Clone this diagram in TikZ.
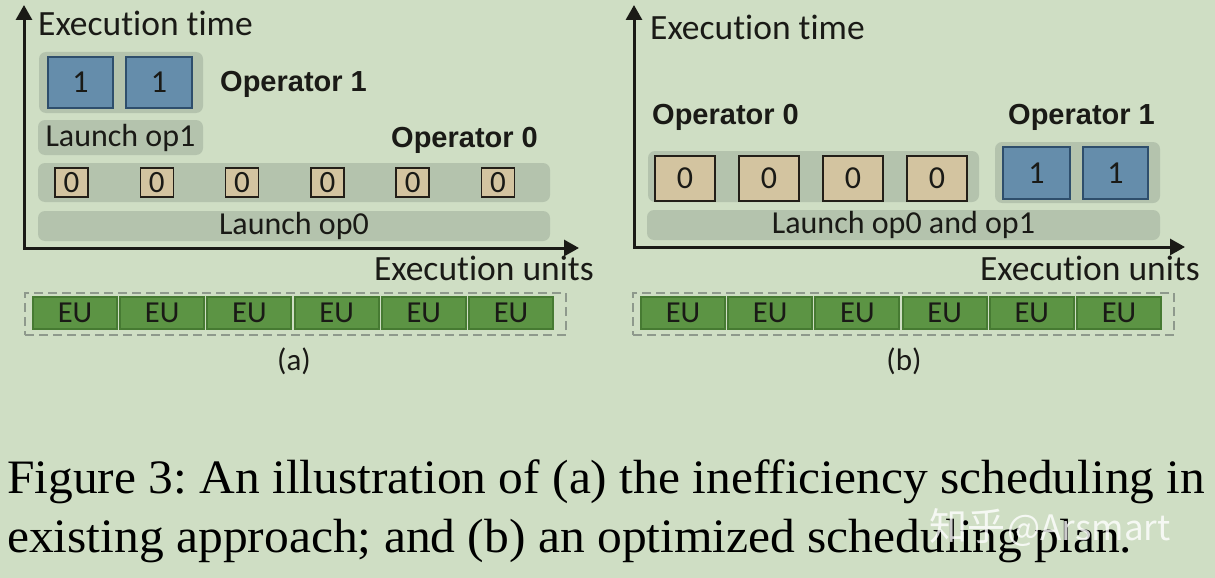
\documentclass[tikz,border=0pt]{standalone}
\usepackage{fontspec}
\usepackage{graphicx}
\setmainfont{Liberation Serif}
\newfontfamily\calfont[Ligatures=NoCommon]{Carlito}
\newfontfamily\arfont{Liberation Sans}
\newfontfamily\cjkfont{Noto Sans CJK SC}
\usetikzlibrary{arrows.meta}
\definecolor{bgc}{HTML}{CFDEC4}
\definecolor{barc}{HTML}{B4C3AD}
\definecolor{bluec}{HTML}{658DAB}
\definecolor{blued}{HTML}{2E4E6C}
\definecolor{tanc}{HTML}{D3C4A0}
\definecolor{tand}{HTML}{231F18}
\definecolor{euc}{HTML}{5C9444}
\definecolor{eud}{HTML}{467A32}
\definecolor{dashc}{HTML}{8E998C}
\definecolor{txtc}{HTML}{1A1A16}
\newlength\capw
\newlength\capwb
\newcommand\capone{Figure 3: An illustration of (a) the inefficiency scheduling in}
\newcommand\captwo{existing approach; and (b) an optimized scheduling plan.}
\begin{document}
\frenchspacing
\settowidth\capw{\fontsize{48}{50}\selectfont\capone}
\settowidth\capwb{\fontsize{48}{50}\selectfont\captwo}
\pgfmathsetmacro\capsx{1198/\capw}
\pgfmathsetmacro\capsy{1125/\capwb}
\begin{tikzpicture}[x=1pt,y=-1pt,
  lbl/.style={font=\calfont\fontsize{35.5}{37}\selectfont, inner sep=0, text=txtc},
  opl/.style={font=\arfont\bfseries\fontsize{29}{31}\selectfont, inner sep=0, text=txtc},
  bar/.style={fill=barc, rounded corners=7pt, inner sep=0, text=txtc, font=\calfont\fontsize{32}{34}\selectfont},
  blueb/.style={fill=bluec, draw=blued, line width=2.2pt, inner sep=0, minimum height=51pt, text=txtc, font=\calfont\fontsize{32}{34}\selectfont},
  tana/.style={fill=tanc, draw=tand, line width=1.5pt, inner sep=0, minimum width=33pt, minimum height=29pt, text=txtc, font=\calfont\fontsize{31}{33}\selectfont},
  tanbb/.style={fill=tanc, draw=tand, line width=2.5pt, inner sep=0, minimum width=60pt, minimum height=45pt, text=txtc, font=\calfont\fontsize{32}{34}\selectfont},
  eub/.style={fill=euc, draw=eud, line width=2pt, minimum width=84pt, minimum height=32pt, inner sep=0, text=txtc, font=\calfont\fontsize{30.5}{32}\selectfont},
  axisl/.style={line width=3pt, draw=txtc, {Triangle[length=15pt,width=16pt]}-{Triangle[length=15pt,width=16pt]}},
  dashb/.style={draw=dashc, line width=2.5pt, dash pattern=on 9pt off 5pt, inner sep=0},
  capf/.style={anchor=base west, inner sep=0, text=black}
]
\useasboundingbox[fill=bgc] (0,0) rectangle (1215,578);

% ---------------- panel (a) ----------------
\coordinate (aY) at (24,5);
\coordinate (aO) at (24,248);
\coordinate (aX) at (579,248);
\draw[axisl] (aY) -- (aO) -- (aX);
\node[lbl, anchor=base west] (aet) at (38,36) {Execution time};
\node[lbl, anchor=base east] (aeu) at (594,280) {Execution units};

\node[bar, minimum width=164pt, minimum height=61pt] (ag1) at (121,82.5) {};
\node[blueb, minimum width=65pt] (ab1) at (80.5,82.5) {1};
\node[blueb, minimum width=66pt] (ab2) at (159,82.5) {1};
\node[opl, anchor=base west] (aop1) at (220,91) {Operator 1};

\node[bar, minimum width=165pt, minimum height=35pt] (al1) at (120.5,137.5) {Launch op1};
\node[opl, anchor=base west] (aop0) at (391,147) {Operator 0};

\node[bar, minimum width=512pt, minimum height=39pt] (ag0) at (294,182.5) {};
\foreach \i in {0,...,5} {
  \node[tana] (at\i) at ({71.5+\i*85.3},182.5) {0};
}
\node[bar, minimum width=512pt, minimum height=30pt] (al0) at (294,226) {Launch op0};

\node[dashb, minimum width=541pt, minimum height=42pt] (aeuf) at (295.5,314) {};
\foreach \i in {0,...,5} {
  \node[eub] (aeu\i) at ({75+\i*87.2},313) {EU};
}
\node[lbl, font=\calfont\fontsize{31}{33}\selectfont] (acap) at (294,361) {(a)};

% ---------------- panel (b) ----------------
\coordinate (bY) at (634,5);
\coordinate (bO) at (634,247);
\coordinate (bX) at (1185,247);
\draw[axisl] (bY) -- (bO) -- (bX);
\node[lbl, anchor=base west] (bet) at (650,40) {Execution time};
\node[lbl, anchor=base east] (beu) at (1200,280) {Execution units};

\node[opl, anchor=base west] (bop0) at (652,124) {Operator 0};
\node[opl, anchor=base west] (bop1) at (1008,124) {Operator 1};

\node[bar, minimum width=331pt, minimum height=51pt] (bg0) at (813.5,176.5) {};
\foreach \i in {0,...,3} {
  \node[tanbb] (bt\i) at ({685+\i*84},178.5) {0};
}
\node[bar, minimum width=165pt, minimum height=61pt] (bg1) at (1077.5,172.5) {};
\node[blueb, minimum width=67pt, minimum height=52pt] (bb1) at (1036.5,173) {1};
\node[blueb, minimum width=65pt, minimum height=52pt] (bb2) at (1115.5,173) {1};

\node[bar, minimum width=513pt, minimum height=30pt] (bl) at (903.5,225) {Launch op0 and op1};

\node[dashb, minimum width=541pt, minimum height=42pt] (beuf) at (903.5,314) {};
\foreach \i in {0,...,5} {
  \node[eub] (beu\i) at ({683+\i*87.2},313) {EU};
}
\node[lbl, font=\calfont\fontsize{31}{33}\selectfont] (bcap) at (904,361) {(b)};

% ---------------- caption ----------------
\node[capf] (cap1) at (7,493) {\scalebox{\capsx}[1]{\fontsize{48}{50}\selectfont\capone}};
\node[capf] (cap2) at (7,552) {\scalebox{\capsy}[1]{\fontsize{48}{50}\selectfont\captwo}};

% watermark
\node[anchor=base west, inner sep=0, text=white, opacity=0.8, font=\cjkfont] (wm) at (929,540) {{\fontsize{38}{40}\selectfont 知乎} {\fontsize{35}{37}\selectfont @Arsmart}};
\end{tikzpicture}
\end{document}
